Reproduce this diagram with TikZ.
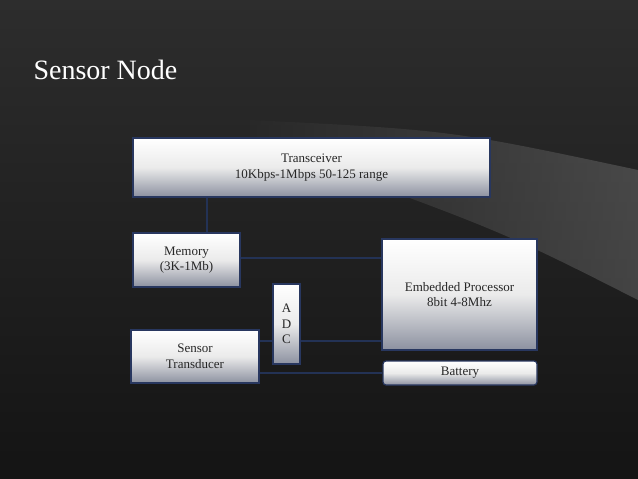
\documentclass[tikz,border=0pt]{standalone}
\usepackage{fontspec}
\setmainfont{Liberation Serif}
\definecolor{edge}{RGB}{40,55,95}
\definecolor{linkc}{RGB}{35,50,85}
\definecolor{boxbot}{RGB}{140,145,160}
\definecolor{bgtop}{RGB}{45,45,45}
\definecolor{bgbot}{RGB}{20,20,20}
\begin{document}
\begin{tikzpicture}[x=1pt,y=-1pt,
  box/.style={draw=edge,line width=1.2pt,top color=white,bottom color=boxbot,middle color=black!8,align=center,font=\fontsize{13}{15.5}\selectfont,text=black!85,inner sep=0pt},
  link/.style={draw=linkc,line width=1.2pt}]
\useasboundingbox (0,0) rectangle (638,479);
\shade[top color=bgtop,bottom color=bgbot] (0,0) rectangle (638,479);
\shade[left color=bgtop, right color=black!45, opacity=0.35] (250,120) .. controls (450,130) .. (638,170) -- (638,300) .. controls (500,230) .. (250,140) -- cycle;
\node[anchor=west,text=white,font=\fontsize{28}{32}\selectfont] (title) at (30,70) {Sensor Node};
\node[box,minimum width=357,minimum height=59] (tr) at (311.5,167.5) {Transceiver\\10Kbps-1Mbps 50-125 range};
\node[box,minimum width=107,minimum height=54] (mem) at (186.5,260) {Memory\\(3K-1Mb)};
\node[box,minimum width=155,minimum height=111] (ep) at (459.5,294.5) {Embedded Processor\\8bit 4-8Mhz};
\node[box,minimum width=27,minimum height=80] (adc) at (286.5,324) {A\\D\\C};
\node[box,minimum width=128,minimum height=53] (sen) at (195,356.5) {Sensor\\Transducer};
\node[box,minimum width=154,minimum height=24,rounded corners=3pt] (bat) at (460,373) {Battery};
\draw[link] (tr.south -| 207,0) -- (mem.north -| 207,0);
\draw[link] (mem.east |- 0,258) -- (ep.west |- 0,258);
\draw[link] (sen.east |- 0,341) -- (adc.west |- 0,341);
\draw[link] (adc.east |- 0,341) -- (ep.west |- 0,341);
\draw[link] (sen.east |- 0,373) -- (bat.west |- 0,373);
\end{tikzpicture}
\end{document}
